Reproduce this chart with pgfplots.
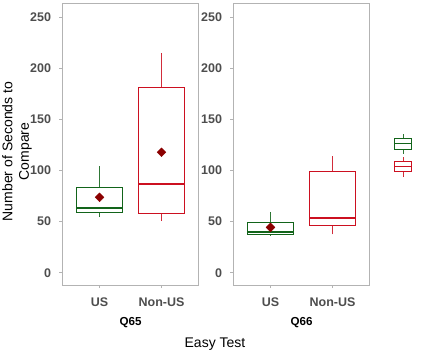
\documentclass[border=0pt]{standalone}
\usepackage{pgfplots}
\pgfplotsset{compat=1.18}
\usepgfplotslibrary{statistics}
\usepackage{fontspec}
\setmainfont{Liberation Sans}
\definecolor{grn}{HTML}{12641A}
\definecolor{rd}{HTML}{CC1020}
\definecolor{dred}{HTML}{8B0000}
\definecolor{framec}{HTML}{B3B3B3}
\definecolor{tlab}{HTML}{4D4D4D}
\pgfplotsset{
 panel/.style={
  scale only axis, width=136.4pt, height=281.7pt,
  xmin=0.4, xmax=2.6, ymin=-12, ymax=263.7,
  axis line style={framec, line width=0.8pt},
  xtick={1,2}, xticklabels={US,Non-US},
  ytick={0,50,100,150,200,250},
  xtick pos=left, ytick pos=left,
  tick align=outside, major tick length=3pt,
  tick style={framec, line width=0.8pt},
  tick label style={font=\fontsize{12.5}{14}\selectfont\bfseries, text=tlab},
  /pgf/number format/assume math mode=true,
  yticklabel style={anchor=east, inner sep=0pt, xshift=-8pt},
  xticklabel style={anchor=base, inner sep=0pt, yshift=-18pt},
  xlabel style={font=\fontsize{11.6}{13}\selectfont\bfseries, at={(axis description cs:0.5,0)}, anchor=center, yshift=-37.5pt},
  boxplot/draw direction=y,
  boxplot/every median/.style={line width=2pt},
  clip=false,
 },
 gbx/.style={line width=1pt, draw=grn, fill=white, boxplot/every whisker/.style={draw=none}},
 rbx/.style={line width=1pt, draw=rd, fill=white, boxplot/every whisker/.style={draw=none}},
 gw/.style={draw=grn, line width=1.1pt, mark=none},
 rw/.style={draw=rd, line width=1.1pt, mark=none},
 mn/.style={only marks, mark=square*, mark size=3.1pt, mark options={rotate=45, fill=dred, draw=dred}},
}
\begin{document}
\begin{tikzpicture}
\useasboundingbox (0,0) rectangle (425pt,-355pt);
% Panel Q65
\begin{axis}[panel, at={(62.3pt,-285pt)}, anchor=south west, xlabel={Q65},
  ylabel={Number of Seconds to\\Compare},
  ylabel style={at={(axis description cs:-0.332,0.474)}, anchor=center, align=center, font=\fontsize{14}{16.5}\selectfont, text=black}]
\addplot[gw] coordinates {(1,54.8) (1,59.1)};
\addplot[gw] coordinates {(1,83.6) (1,104.7)};
\addplot[rw] coordinates {(2,50.9) (2,57.5)};
\addplot[rw] coordinates {(2,181.5) (2,214.8)};
\addplot[gbx, boxplot prepared={draw position=1, lower whisker=54.8, lower quartile=59.1, median=63.6, upper quartile=83.6, upper whisker=104.7, box extend=0.75, whisker extend=0}] coordinates {};
\addplot[rbx, boxplot prepared={draw position=2, lower whisker=50.9, lower quartile=57.5, median=87.1, upper quartile=181.5, upper whisker=214.8, box extend=0.75, whisker extend=0}] coordinates {};
\addplot[mn] coordinates {(1,73.8) (2,117.9)};
\end{axis}
% Panel Q66
\begin{axis}[panel, at={(233.3pt,-285pt)}, anchor=south west, xlabel={Q66}]
\addplot[gw] coordinates {(1,36.2) (1,37.6)};
\addplot[gw] coordinates {(1,49.3) (1,59.1)};
\addplot[rw] coordinates {(2,37.6) (2,46.4)};
\addplot[rw] coordinates {(2,98.9) (2,114.3)};
\addplot[gbx, boxplot prepared={draw position=1, lower whisker=36.2, lower quartile=37.6, median=40.2, upper quartile=49.3, upper whisker=59.1, box extend=0.75, whisker extend=0}] coordinates {};
\addplot[rbx, boxplot prepared={draw position=2, lower whisker=37.6, lower quartile=46.4, median=53.6, upper quartile=98.9, upper whisker=114.3, box extend=0.75, whisker extend=0}] coordinates {};
\addplot[mn] coordinates {(1,44.4)};
\end{axis}
% Legend keys
\begin{axis}[at={(383pt,-185pt)}, anchor=south west, scale only axis, width=40pt, height=60pt,
  xmin=383, xmax=423, ymin=-185, ymax=-125, hide axis, clip=false,
  boxplot/draw direction=y, boxplot/every median/.style={line width=1pt}]
\addplot[gw, line width=0.9pt] coordinates {(403,-154) (403,-149.3)};
\addplot[gw, line width=0.9pt] coordinates {(403,-138.3) (403,-134)};
\addplot[rw, line width=0.9pt] coordinates {(403,-176.7) (403,-171.7)};
\addplot[rw, line width=0.9pt] coordinates {(403,-161) (403,-156.7)};
\addplot[gbx, line width=0.9pt, boxplot prepared={draw position=403, lower whisker=-154, lower quartile=-149.3, median=-144, upper quartile=-138.3, upper whisker=-134, box extend=17.4, whisker extend=0}] coordinates {};
\addplot[rbx, line width=0.9pt, boxplot prepared={draw position=403, lower whisker=-176.7, lower quartile=-171.7, median=-166.3, upper quartile=-161, upper whisker=-156.7, box extend=17.4, whisker extend=0}] coordinates {};
\end{axis}
\node[font=\fontsize{14}{16}\selectfont, anchor=center] at (215pt,-344pt) {Easy Test};
\end{tikzpicture}
\end{document}
